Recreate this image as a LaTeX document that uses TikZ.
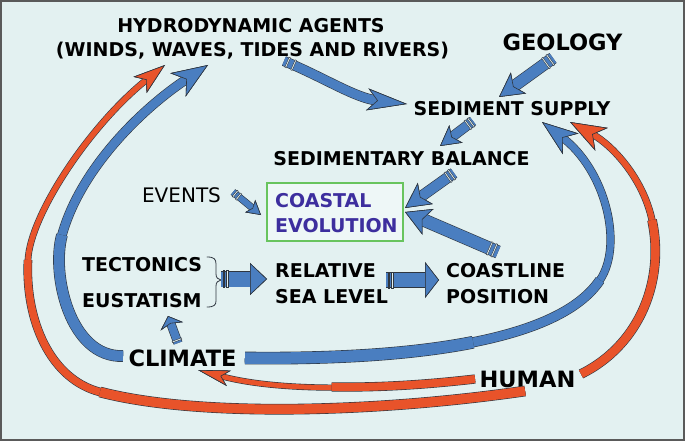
\documentclass[tikz,border=0pt]{standalone}
\usepackage{fontspec}
\setmainfont{DejaVu Sans}
\usetikzlibrary{arrows.meta}
\definecolor{bgc}{HTML}{E3F1F1}
\definecolor{framec}{HTML}{5A5A5A}
\definecolor{ablue}{HTML}{4A7EC0}
\definecolor{ared}{HTML}{E8532A}
\definecolor{outl}{HTML}{2E3640}
\definecolor{coastgreen}{RGB}{104,196,94}
\definecolor{purp}{HTML}{3D2E9E}
\tikzset{
  lbl/.style={font=\bfseries\fontsize{19}{23}\selectfont, inner sep=0pt},
  bigl/.style={font=\bfseries\fontsize{22.5}{27}\selectfont, inner sep=0pt},
  regl/.style={font=\fontsize{20}{24}\selectfont, inner sep=0pt},
  ptxt/.style={font=\bfseries\fontsize{19}{23}\selectfont, inner sep=0pt, text=purp},
  coastbox/.style={draw=coastgreen, fill=white!40!bgc, line width=1.2pt, minimum width=136pt, minimum height=58pt, inner sep=0pt},
  barrow/.style n args={5}{
    draw=#1, line width=#2,
    -{Stealth[length=#3, width=#4, inset=#5, line width=0.6pt, color=outl, fill=#1]},
    preaction={draw=outl, line width=#2+1.2pt,
      -{Stealth[length=#3, width=#4, inset=#5, line width=0.6pt, color=outl, fill=outl]}}
  },
  tseg/.style 2 args={draw=#1, line width=#2, preaction={draw=outl, line width=#2+1.2pt}},
  stripe/.style={sloped, draw=outl, fill=bgc, line width=0.4pt, inner sep=0pt,
    minimum width=1.5pt, minimum height=#1, rectangle},
  bracel/.style={draw=outl, line width=0.8pt, line cap=round, line join=round}
}
\begin{document}
\begin{tikzpicture}[x=1pt,y=-1pt]
\fill[bgc] (0,0) rectangle (685,441);
\draw[framec, line width=2pt] (1,1) rectangle (684,440);
\useasboundingbox (0,0) rectangle (685,441);

% texts
\node[lbl, anchor=base] (hydro1) at (251,33) {HYDRODYNAMIC AGENTS};
\node[lbl, anchor=base] (hydro2) at (252.5,57) {(WINDS, WAVES, TIDES AND RIVERS)};
\node[bigl, anchor=base] (geo) at (562.5,51) {GEOLOGY};
\node[lbl, anchor=base] (supply) at (512,116) {SEDIMENT SUPPLY};
\node[lbl, anchor=base] (balance) at (401.5,165) {SEDIMENTARY BALANCE};
\node[regl, anchor=base] (events) at (181.5,202) {EVENTS};
\node[coastbox] (coast) at (335,212) {};
\node[ptxt, anchor=base west] (coast1) at (275,207) {COASTAL};
\node[ptxt, anchor=base west] (coast2) at (275,232) {EVOLUTION};
\node[lbl, anchor=base west] (tect) at (82,271) {TECTONICS};
\node[lbl, anchor=base west] (eust) at (82,307) {EUSTATISM};
\node[lbl, anchor=base west] (rel1) at (275,277) {RELATIVE};
\node[lbl, anchor=base west] (rel2) at (275,303) {SEA LEVEL};
\node[lbl, anchor=base west] (cl1) at (446,277) {COASTLINE};
\node[lbl, anchor=base west] (cl2) at (446,303) {POSITION};
\node[bigl, anchor=base] (climate) at (182.5,366) {CLIMATE};
\node[bigl, anchor=base] (human) at (527.5,387) {HUMAN};

% brace
\coordinate (brtop) at (207,257);
\coordinate (brbot) at (207,307);
\coordinate (brtip) at (221,280);
\draw[bracel] (brtop) .. controls (214,257) and (216,259) .. (216,264) -- (216,274)
  .. controls (216,278) and (218,279) .. (brtip)
  .. controls (218,281) and (216,282) .. (216,286) -- (216,301)
  .. controls (216,305) and (214,307) .. (brbot);

% coordinates of connector ends
\coordinate (tA) at (284,61);  \coordinate (hA) at (407,104);
\coordinate (tB) at (553,58);  \coordinate (hB) at (499,97);
\coordinate (tC) at (473,121); \coordinate (hC) at (440,146);
\coordinate (tD) at (454,173); \coordinate (hD) at (405,208);
\coordinate (tE) at (498,252); \coordinate (hE) at (405,212);
\coordinate (tF) at (233,192); \coordinate (hF) at (261,215);
\coordinate (tG) at (221,279); \coordinate (hG) at (267,279);
\coordinate (tH) at (386,280); \coordinate (hH) at (439,280);
\coordinate (tI) at (178,343); \coordinate (hI) at (168,316);
\coordinate (tJ) at (123,356); \coordinate (hJ) at (208,65);
\coordinate (tK) at (245,358); \coordinate (hK) at (542,122);
\coordinate (tL) at (475,379); \coordinate (hL) at (198,370);
\coordinate (tM) at (525,391); \coordinate (hM) at (165,65);
\coordinate (tN) at (581,374); \coordinate (hN) at (570,122);
% intermediate points of the curves
\coordinate (m1) at (100,392); \coordinate (m2) at (28,260);
\coordinate (j1) at (62,235);
\coordinate (kmid) at (473.1,342.25); \coordinate (k1) at (600,280);
\coordinate (n1) at (652,220);
\coordinate (lmid) at (331.6,386.9);

% big curved arrows (tapered by overlaid strokes)
\draw[barrow={ared}{5.5pt}{32pt}{21pt}{8pt}] (tM) .. controls (380,412) and (200,418) .. (m1)
  .. controls (50,379) and (25,320) .. (m2)
  .. controls (30,215) and (90,125) .. (hM);
\draw[tseg={ared}{7.5pt}] (tM) .. controls (380,412) and (200,418) .. (m1)
  .. controls (50,379) and (25,320) .. (m2);
\draw[tseg={ared}{9.5pt}] (tM) .. controls (380,412) and (200,418) .. (m1);

\draw[barrow={ablue}{8.5pt}{36pt}{28pt}{10pt}] (tJ) .. controls (70,358) and (51,274) .. (j1)
  .. controls (80,170) and (140,110) .. (hJ);
\draw[tseg={ablue}{10.5pt}] (tJ) .. controls (70,358) and (51,274) .. (j1);

\draw[barrow={ablue}{7pt}{36pt}{26pt}{10pt}] (tK) .. controls (420,360) and (560,340) .. (k1)
  .. controls (624,244) and (605,170) .. (hK);
\draw[tseg={ablue}{9pt}] (tK) .. controls (332.5,359) and (411.25,354.5) .. (kmid)
  .. controls (535,330) and (580,310) .. (k1);
\draw[tseg={ablue}{11.5pt}] (tK) .. controls (332.5,359) and (411.25,354.5) .. (kmid);

\draw[barrow={ared}{6pt}{36pt}{26pt}{10pt}] (tN) .. controls (640,345) and (665,280) .. (n1)
  .. controls (643,178) and (612,145) .. (hN);
\draw[tseg={ared}{8.5pt}] (tN) .. controls (640,345) and (665,280) .. (n1);

\draw[barrow={ared}{5pt}{32pt}{16pt}{8pt}] (tL) .. controls (380,390) and (280,392) .. (hL);
\draw[tseg={ared}{8pt}] (tL) .. controls (427.5,384.5) and (378.75,387.75) .. (lmid);

% straight / short arrows
\draw[barrow={ablue}{9pt}{40pt}{22pt}{10pt}] (tA) .. controls (325,78) and (355,98) .. (hA);
\path (tA) .. controls (325,78) and (355,98) .. (hA) node[stripe=11pt, pos=0.03]{} node[stripe=11pt, pos=0.08]{};
\draw[barrow={ablue}{11pt}{24pt}{26pt}{6pt}] (tB) -- (hB);
\path (tB) -- (hB) node[stripe=13pt, pos=0.05]{} node[stripe=13pt, pos=0.13]{};
\draw[barrow={ablue}{9pt}{20pt}{22pt}{5pt}] (tC) -- (hC);
\path (tC) -- (hC) node[stripe=11pt, pos=0.06]{} node[stripe=11pt, pos=0.15]{};
\draw[barrow={ablue}{10pt}{25pt}{26pt}{6pt}] (tD) -- (hD);
\path (tD) -- (hD) node[stripe=12pt, pos=0.05]{} node[stripe=12pt, pos=0.12]{};
\draw[barrow={ablue}{12pt}{25pt}{28pt}{6pt}] (tE) -- (hE);
\path (tE) -- (hE) node[stripe=14pt, pos=0.04]{} node[stripe=14pt, pos=0.09]{};
\draw[barrow={ablue}{6pt}{14pt}{16pt}{3pt}] (tF) -- (hF);
\path (tF) -- (hF) node[stripe=8pt, pos=0.08]{} node[stripe=8pt, pos=0.2]{};
\draw[barrow={ablue}{15pt}{17pt}{32pt}{0pt}] (tG) -- (hG);
\path (tG) -- (hG) node[stripe=17pt, pos=0.06]{} node[stripe=17pt, pos=0.14]{};
\draw[barrow={ablue}{14pt}{14pt}{36pt}{0pt}] (tH) -- (hH);
\path (tH) -- (hH) node[stripe=16pt, pos=0.05]{} node[stripe=16pt, pos=0.12]{};
\draw[barrow={ablue}{8pt}{11pt}{24pt}{3pt}] (tI) -- (hI);
\path (tI) -- (hI) node[stripe=10pt, pos=0.1]{};
\end{tikzpicture}
\end{document}
